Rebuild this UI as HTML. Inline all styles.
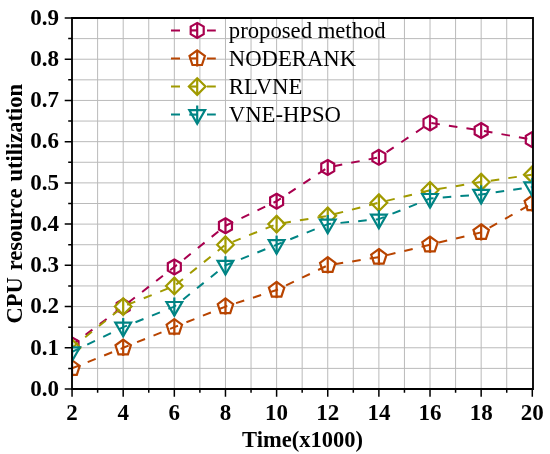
<!DOCTYPE html>
<html><head><meta charset="utf-8"><style>html,body{margin:0;padding:0;background:#fff;}svg{display:block;}</style></head>
<body>
<svg width="550" height="454" viewBox="0 0 550 454">
<rect width="550" height="454" fill="#fff"/>
<path d="M97.62 18.00 V389.00 M148.76 18.00 V389.00 M199.90 18.00 V389.00 M251.04 18.00 V389.00 M302.17 18.00 V389.00 M353.31 18.00 V389.00 M404.45 18.00 V389.00 M455.59 18.00 V389.00 M506.73 18.00 V389.00 M72.00 368.39 H533.00 M72.00 327.17 H533.00 M72.00 285.94 H533.00 M72.00 244.72 H533.00 M72.00 203.50 H533.00 M72.00 162.28 H533.00 M72.00 121.06 H533.00 M72.00 79.83 H533.00 M72.00 38.61 H533.00" stroke="#BABABA" stroke-width="1" fill="none"/>
<path d="M123.19 18.00 V389.00 M174.33 18.00 V389.00 M225.47 18.00 V389.00 M276.61 18.00 V389.00 M327.74 18.00 V389.00 M378.88 18.00 V389.00 M430.02 18.00 V389.00 M481.16 18.00 V389.00 M72.00 347.78 H533.00 M72.00 306.56 H533.00 M72.00 265.33 H533.00 M72.00 224.11 H533.00 M72.00 182.89 H533.00 M72.00 141.67 H533.00 M72.00 100.44 H533.00 M72.00 59.22 H533.00" stroke="#BABABA" stroke-width="1" fill="none"/>
<defs><clipPath id="c"><rect x="72.00" y="18.00" width="461.00" height="371.00"/></clipPath></defs>
<g clip-path="url(#c)">
<path d="M72.05 337.39 L78.55 341.14 L78.55 348.64 L72.05 352.39 L65.55 348.64 L65.55 341.14 Z" fill="#fff" stroke="#A8004E" stroke-width="2.2" stroke-linejoin="miter"/><path d="M72.05 337.39 V352.39" stroke="#A8004E" stroke-width="2.2"/>
<path d="M123.19 299.06 L129.68 302.81 L129.68 310.31 L123.19 314.06 L116.69 310.31 L116.69 302.81 Z" fill="#fff" stroke="#A8004E" stroke-width="2.2" stroke-linejoin="miter"/><path d="M123.19 299.06 V314.06" stroke="#A8004E" stroke-width="2.2"/>
<path d="M174.33 259.48 L180.82 263.23 L180.82 270.73 L174.33 274.48 L167.83 270.73 L167.83 263.23 Z" fill="#fff" stroke="#A8004E" stroke-width="2.2" stroke-linejoin="miter"/><path d="M174.33 259.48 V274.48" stroke="#A8004E" stroke-width="2.2"/>
<path d="M225.47 218.26 L231.96 222.01 L231.96 229.51 L225.47 233.26 L218.97 229.51 L218.97 222.01 Z" fill="#fff" stroke="#A8004E" stroke-width="2.2" stroke-linejoin="miter"/><path d="M225.47 218.26 V233.26" stroke="#A8004E" stroke-width="2.2"/>
<path d="M276.61 193.73 L283.10 197.48 L283.10 204.98 L276.61 208.73 L270.11 204.98 L270.11 197.48 Z" fill="#fff" stroke="#A8004E" stroke-width="2.2" stroke-linejoin="miter"/><path d="M276.61 193.73 V208.73" stroke="#A8004E" stroke-width="2.2"/>
<path d="M327.74 159.93 L334.24 163.68 L334.24 171.18 L327.74 174.93 L321.25 171.18 L321.25 163.68 Z" fill="#fff" stroke="#A8004E" stroke-width="2.2" stroke-linejoin="miter"/><path d="M327.74 159.93 V174.93" stroke="#A8004E" stroke-width="2.2"/>
<path d="M378.88 149.83 L385.38 153.58 L385.38 161.08 L378.88 164.83 L372.39 161.08 L372.39 153.58 Z" fill="#fff" stroke="#A8004E" stroke-width="2.2" stroke-linejoin="miter"/><path d="M378.88 149.83 V164.83" stroke="#A8004E" stroke-width="2.2"/>
<path d="M430.02 115.41 L436.52 119.16 L436.52 126.66 L430.02 130.41 L423.53 126.66 L423.53 119.16 Z" fill="#fff" stroke="#A8004E" stroke-width="2.2" stroke-linejoin="miter"/><path d="M430.02 115.41 V130.41" stroke="#A8004E" stroke-width="2.2"/>
<path d="M481.16 123.04 L487.66 126.79 L487.66 134.29 L481.16 138.04 L474.67 134.29 L474.67 126.79 Z" fill="#fff" stroke="#A8004E" stroke-width="2.2" stroke-linejoin="miter"/><path d="M481.16 123.04 V138.04" stroke="#A8004E" stroke-width="2.2"/>
<path d="M532.30 132.11 L538.80 135.86 L538.80 143.36 L532.30 147.11 L525.80 143.36 L525.80 135.86 Z" fill="#fff" stroke="#A8004E" stroke-width="2.2" stroke-linejoin="miter"/><path d="M532.30 132.11 V147.11" stroke="#A8004E" stroke-width="2.2"/>
<g stroke="#A8004E" stroke-width="2" stroke-dasharray="8.60 9.14"><line x1="72.05" y1="344.89" x2="123.19" y2="306.56" stroke-dashoffset="0.87"/><line x1="123.19" y1="306.56" x2="174.33" y2="266.98" stroke-dashoffset="11.56"/><line x1="174.33" y1="266.98" x2="225.47" y2="225.76" stroke-dashoffset="5.27"/><line x1="225.47" y1="225.76" x2="276.61" y2="201.23" stroke-dashoffset="17.73"/><line x1="276.61" y1="201.23" x2="327.74" y2="167.43" stroke-dashoffset="3.49"/><line x1="327.74" y1="167.43" x2="378.88" y2="157.33" stroke-dashoffset="11.57"/><line x1="378.88" y1="157.33" x2="430.02" y2="122.91" stroke-dashoffset="8.47"/><line x1="430.02" y1="122.91" x2="481.16" y2="130.54" stroke-dashoffset="16.40"/><line x1="481.16" y1="130.54" x2="532.30" y2="139.61" stroke-dashoffset="14.88"/></g>
<path d="M72.05 360.29 L79.75 365.89 L76.81 374.94 L67.29 374.94 L64.35 365.89 Z" fill="#fff" stroke="#B84400" stroke-width="2.2" stroke-linejoin="miter"/><path d="M72.05 360.29 V376.49" stroke="#B84400" stroke-width="2.2"/>
<path d="M123.19 339.68 L130.89 345.27 L127.95 354.33 L118.43 354.33 L115.49 345.27 Z" fill="#fff" stroke="#B84400" stroke-width="2.2" stroke-linejoin="miter"/><path d="M123.19 339.68 V355.88" stroke="#B84400" stroke-width="2.2"/>
<path d="M174.33 319.07 L182.03 324.66 L179.09 333.72 L169.57 333.72 L166.62 324.66 Z" fill="#fff" stroke="#B84400" stroke-width="2.2" stroke-linejoin="miter"/><path d="M174.33 319.07 V335.27" stroke="#B84400" stroke-width="2.2"/>
<path d="M225.47 298.46 L233.17 304.05 L230.23 313.11 L220.71 313.11 L217.76 304.05 Z" fill="#fff" stroke="#B84400" stroke-width="2.2" stroke-linejoin="miter"/><path d="M225.47 298.46 V314.66" stroke="#B84400" stroke-width="2.2"/>
<path d="M276.61 281.97 L284.31 287.56 L281.37 296.62 L271.84 296.62 L268.90 287.56 Z" fill="#fff" stroke="#B84400" stroke-width="2.2" stroke-linejoin="miter"/><path d="M276.61 281.97 V298.17" stroke="#B84400" stroke-width="2.2"/>
<path d="M327.74 257.23 L335.45 262.83 L332.51 271.89 L322.98 271.89 L320.04 262.83 Z" fill="#fff" stroke="#B84400" stroke-width="2.2" stroke-linejoin="miter"/><path d="M327.74 257.23 V273.43" stroke="#B84400" stroke-width="2.2"/>
<path d="M378.88 248.99 L386.59 254.59 L383.64 263.64 L374.12 263.64 L371.18 254.59 Z" fill="#fff" stroke="#B84400" stroke-width="2.2" stroke-linejoin="miter"/><path d="M378.88 248.99 V265.19" stroke="#B84400" stroke-width="2.2"/>
<path d="M430.02 236.62 L437.73 242.22 L434.78 251.28 L425.26 251.28 L422.32 242.22 Z" fill="#fff" stroke="#B84400" stroke-width="2.2" stroke-linejoin="miter"/><path d="M430.02 236.62 V252.82" stroke="#B84400" stroke-width="2.2"/>
<path d="M481.16 224.26 L488.86 229.85 L485.92 238.91 L476.40 238.91 L473.46 229.85 Z" fill="#fff" stroke="#B84400" stroke-width="2.2" stroke-linejoin="miter"/><path d="M481.16 224.26 V240.46" stroke="#B84400" stroke-width="2.2"/>
<path d="M532.30 195.40 L540.00 201.00 L537.06 210.05 L527.54 210.05 L524.60 201.00 Z" fill="#fff" stroke="#B84400" stroke-width="2.2" stroke-linejoin="miter"/><path d="M532.30 195.40 V211.60" stroke="#B84400" stroke-width="2.2"/>
<g stroke="#B84400" stroke-width="2" stroke-dasharray="8.60 9.14"><line x1="72.05" y1="368.39" x2="123.19" y2="347.78" stroke-dashoffset="0.87"/><line x1="123.19" y1="347.78" x2="174.33" y2="327.17" stroke-dashoffset="2.79"/><line x1="174.33" y1="327.17" x2="225.47" y2="306.56" stroke-dashoffset="4.70"/><line x1="225.47" y1="306.56" x2="276.61" y2="290.07" stroke-dashoffset="6.62"/><line x1="276.61" y1="290.07" x2="327.74" y2="265.33" stroke-dashoffset="7.13"/><line x1="327.74" y1="265.33" x2="378.88" y2="257.09" stroke-dashoffset="10.72"/><line x1="378.88" y1="257.09" x2="430.02" y2="244.72" stroke-dashoffset="9.30"/><line x1="430.02" y1="244.72" x2="481.16" y2="232.36" stroke-dashoffset="8.69"/><line x1="481.16" y1="232.36" x2="532.30" y2="203.50" stroke-dashoffset="8.08"/></g>
<path d="M72.05 339.48 L80.35 347.78 L72.05 356.08 L63.75 347.78 Z" fill="#fff" stroke="#A09A00" stroke-width="2.2" stroke-linejoin="miter"/><path d="M72.05 339.48 V356.08" stroke="#A09A00" stroke-width="2.2"/>
<path d="M123.19 298.26 L131.49 306.56 L123.19 314.86 L114.89 306.56 Z" fill="#fff" stroke="#A09A00" stroke-width="2.2" stroke-linejoin="miter"/><path d="M123.19 298.26 V314.86" stroke="#A09A00" stroke-width="2.2"/>
<path d="M174.33 277.64 L182.63 285.94 L174.33 294.24 L166.03 285.94 Z" fill="#fff" stroke="#A09A00" stroke-width="2.2" stroke-linejoin="miter"/><path d="M174.33 277.64 V294.24" stroke="#A09A00" stroke-width="2.2"/>
<path d="M225.47 236.42 L233.77 244.72 L225.47 253.02 L217.17 244.72 Z" fill="#fff" stroke="#A09A00" stroke-width="2.2" stroke-linejoin="miter"/><path d="M225.47 236.42 V253.02" stroke="#A09A00" stroke-width="2.2"/>
<path d="M276.61 215.81 L284.91 224.11 L276.61 232.41 L268.31 224.11 Z" fill="#fff" stroke="#A09A00" stroke-width="2.2" stroke-linejoin="miter"/><path d="M276.61 215.81 V232.41" stroke="#A09A00" stroke-width="2.2"/>
<path d="M327.74 207.57 L336.04 215.87 L327.74 224.17 L319.44 215.87 Z" fill="#fff" stroke="#A09A00" stroke-width="2.2" stroke-linejoin="miter"/><path d="M327.74 207.57 V224.17" stroke="#A09A00" stroke-width="2.2"/>
<path d="M378.88 194.38 L387.18 202.68 L378.88 210.98 L370.58 202.68 Z" fill="#fff" stroke="#A09A00" stroke-width="2.2" stroke-linejoin="miter"/><path d="M378.88 194.38 V210.98" stroke="#A09A00" stroke-width="2.2"/>
<path d="M430.02 182.01 L438.32 190.31 L430.02 198.61 L421.72 190.31 Z" fill="#fff" stroke="#A09A00" stroke-width="2.2" stroke-linejoin="miter"/><path d="M430.02 182.01 V198.61" stroke="#A09A00" stroke-width="2.2"/>
<path d="M481.16 173.76 L489.46 182.06 L481.16 190.36 L472.86 182.06 Z" fill="#fff" stroke="#A09A00" stroke-width="2.2" stroke-linejoin="miter"/><path d="M481.16 173.76 V190.36" stroke="#A09A00" stroke-width="2.2"/>
<path d="M532.30 166.34 L540.60 174.64 L532.30 182.94 L524.00 174.64 Z" fill="#fff" stroke="#A09A00" stroke-width="2.2" stroke-linejoin="miter"/><path d="M532.30 166.34 V182.94" stroke="#A09A00" stroke-width="2.2"/>
<g stroke="#A09A00" stroke-width="2" stroke-dasharray="8.60 9.14"><line x1="72.05" y1="347.78" x2="123.19" y2="306.56" stroke-dashoffset="0.87"/><line x1="123.19" y1="306.56" x2="174.33" y2="285.94" stroke-dashoffset="13.33"/><line x1="174.33" y1="285.94" x2="225.47" y2="244.72" stroke-dashoffset="15.25"/><line x1="225.47" y1="244.72" x2="276.61" y2="224.11" stroke-dashoffset="9.98"/><line x1="276.61" y1="224.11" x2="327.74" y2="215.87" stroke-dashoffset="11.89"/><line x1="327.74" y1="215.87" x2="378.88" y2="202.68" stroke-dashoffset="10.47"/><line x1="378.88" y1="202.68" x2="430.02" y2="190.31" stroke-dashoffset="10.06"/><line x1="430.02" y1="190.31" x2="481.16" y2="182.06" stroke-dashoffset="9.46"/><line x1="481.16" y1="182.06" x2="532.30" y2="174.64" stroke-dashoffset="8.04"/></g>
<path d="M72.05 361.00 L79.93 347.35 L64.17 347.35 Z" fill="#fff" stroke="#008484" stroke-width="2.2" stroke-linejoin="miter"/><path d="M72.05 342.80 V361.00" stroke="#008484" stroke-width="2.2"/>
<path d="M123.19 336.27 L131.07 322.62 L115.31 322.62 Z" fill="#fff" stroke="#008484" stroke-width="2.2" stroke-linejoin="miter"/><path d="M123.19 318.07 V336.27" stroke="#008484" stroke-width="2.2"/>
<path d="M174.33 315.66 L182.21 302.01 L166.45 302.01 Z" fill="#fff" stroke="#008484" stroke-width="2.2" stroke-linejoin="miter"/><path d="M174.33 297.46 V315.66" stroke="#008484" stroke-width="2.2"/>
<path d="M225.47 274.43 L233.35 260.78 L217.59 260.78 Z" fill="#fff" stroke="#008484" stroke-width="2.2" stroke-linejoin="miter"/><path d="M225.47 256.23 V274.43" stroke="#008484" stroke-width="2.2"/>
<path d="M276.61 253.82 L284.49 240.17 L268.72 240.17 Z" fill="#fff" stroke="#008484" stroke-width="2.2" stroke-linejoin="miter"/><path d="M276.61 235.62 V253.82" stroke="#008484" stroke-width="2.2"/>
<path d="M327.74 233.21 L335.63 219.56 L319.86 219.56 Z" fill="#fff" stroke="#008484" stroke-width="2.2" stroke-linejoin="miter"/><path d="M327.74 215.01 V233.21" stroke="#008484" stroke-width="2.2"/>
<path d="M378.88 228.26 L386.76 214.61 L371.00 214.61 Z" fill="#fff" stroke="#008484" stroke-width="2.2" stroke-linejoin="miter"/><path d="M378.88 210.06 V228.26" stroke="#008484" stroke-width="2.2"/>
<path d="M430.02 207.65 L437.90 194.00 L422.14 194.00 Z" fill="#fff" stroke="#008484" stroke-width="2.2" stroke-linejoin="miter"/><path d="M430.02 189.45 V207.65" stroke="#008484" stroke-width="2.2"/>
<path d="M481.16 203.53 L489.04 189.88 L473.28 189.88 Z" fill="#fff" stroke="#008484" stroke-width="2.2" stroke-linejoin="miter"/><path d="M481.16 185.33 V203.53" stroke="#008484" stroke-width="2.2"/>
<path d="M532.30 196.11 L540.18 182.46 L524.42 182.46 Z" fill="#fff" stroke="#008484" stroke-width="2.2" stroke-linejoin="miter"/><path d="M532.30 177.91 V196.11" stroke="#008484" stroke-width="2.2"/>
<g stroke="#008484" stroke-width="2" stroke-dasharray="8.60 9.14"><line x1="72.05" y1="351.90" x2="123.19" y2="327.17" stroke-dashoffset="0.87"/><line x1="123.19" y1="327.17" x2="174.33" y2="306.56" stroke-dashoffset="4.46"/><line x1="174.33" y1="306.56" x2="225.47" y2="265.33" stroke-dashoffset="6.37"/><line x1="225.47" y1="265.33" x2="276.61" y2="244.72" stroke-dashoffset="1.10"/><line x1="276.61" y1="244.72" x2="327.74" y2="224.11" stroke-dashoffset="3.01"/><line x1="327.74" y1="224.11" x2="378.88" y2="219.16" stroke-dashoffset="4.93"/><line x1="378.88" y1="219.16" x2="430.02" y2="198.55" stroke-dashoffset="3.09"/><line x1="430.02" y1="198.55" x2="481.16" y2="194.43" stroke-dashoffset="5.00"/><line x1="481.16" y1="194.43" x2="532.30" y2="187.01" stroke-dashoffset="3.09"/></g>
</g>
<path d="M72.00 18.00 H533.00 V389.00 H72.00 Z" fill="none" stroke="#000" stroke-width="1.85"/>
<path d="M72.05 389.00 V396.80 M97.62 389.00 V392.80 M123.19 389.00 V396.80 M148.76 389.00 V392.80 M174.33 389.00 V396.80 M199.90 389.00 V392.80 M225.47 389.00 V396.80 M251.04 389.00 V392.80 M276.61 389.00 V396.80 M302.17 389.00 V392.80 M327.74 389.00 V396.80 M353.31 389.00 V392.80 M378.88 389.00 V396.80 M404.45 389.00 V392.80 M430.02 389.00 V396.80 M455.59 389.00 V392.80 M481.16 389.00 V396.80 M506.73 389.00 V392.80 M532.30 389.00 V396.80 M72.00 389.00 H64.70 M72.00 368.39 H68.20 M72.00 347.78 H64.70 M72.00 327.17 H68.20 M72.00 306.56 H64.70 M72.00 285.94 H68.20 M72.00 265.33 H64.70 M72.00 244.72 H68.20 M72.00 224.11 H64.70 M72.00 203.50 H68.20 M72.00 182.89 H64.70 M72.00 162.28 H68.20 M72.00 141.67 H64.70 M72.00 121.06 H68.20 M72.00 100.44 H64.70 M72.00 79.83 H68.20 M72.00 59.22 H64.70 M72.00 38.61 H68.20 M72.00 18.00 H64.70" stroke="#000" stroke-width="1.5" fill="none"/>
<text x="72.05" y="419.6" text-anchor="middle" font-family="&apos;Liberation Serif&apos;, serif" font-weight="bold" font-size="23">2</text>
<text x="123.19" y="419.6" text-anchor="middle" font-family="&apos;Liberation Serif&apos;, serif" font-weight="bold" font-size="23">4</text>
<text x="174.33" y="419.6" text-anchor="middle" font-family="&apos;Liberation Serif&apos;, serif" font-weight="bold" font-size="23">6</text>
<text x="225.47" y="419.6" text-anchor="middle" font-family="&apos;Liberation Serif&apos;, serif" font-weight="bold" font-size="23">8</text>
<text x="276.61" y="419.6" text-anchor="middle" font-family="&apos;Liberation Serif&apos;, serif" font-weight="bold" font-size="23">10</text>
<text x="327.74" y="419.6" text-anchor="middle" font-family="&apos;Liberation Serif&apos;, serif" font-weight="bold" font-size="23">12</text>
<text x="378.88" y="419.6" text-anchor="middle" font-family="&apos;Liberation Serif&apos;, serif" font-weight="bold" font-size="23">14</text>
<text x="430.02" y="419.6" text-anchor="middle" font-family="&apos;Liberation Serif&apos;, serif" font-weight="bold" font-size="23">16</text>
<text x="481.16" y="419.6" text-anchor="middle" font-family="&apos;Liberation Serif&apos;, serif" font-weight="bold" font-size="23">18</text>
<text x="532.30" y="419.6" text-anchor="middle" font-family="&apos;Liberation Serif&apos;, serif" font-weight="bold" font-size="23">20</text>
<text x="59" y="395.80" text-anchor="end" font-family="&apos;Liberation Serif&apos;, serif" font-weight="bold" font-size="23">0.0</text>
<text x="59" y="354.58" text-anchor="end" font-family="&apos;Liberation Serif&apos;, serif" font-weight="bold" font-size="23">0.1</text>
<text x="59" y="313.36" text-anchor="end" font-family="&apos;Liberation Serif&apos;, serif" font-weight="bold" font-size="23">0.2</text>
<text x="59" y="272.13" text-anchor="end" font-family="&apos;Liberation Serif&apos;, serif" font-weight="bold" font-size="23">0.3</text>
<text x="59" y="230.91" text-anchor="end" font-family="&apos;Liberation Serif&apos;, serif" font-weight="bold" font-size="23">0.4</text>
<text x="59" y="189.69" text-anchor="end" font-family="&apos;Liberation Serif&apos;, serif" font-weight="bold" font-size="23">0.5</text>
<text x="59" y="148.47" text-anchor="end" font-family="&apos;Liberation Serif&apos;, serif" font-weight="bold" font-size="23">0.6</text>
<text x="59" y="107.24" text-anchor="end" font-family="&apos;Liberation Serif&apos;, serif" font-weight="bold" font-size="23">0.7</text>
<text x="59" y="66.02" text-anchor="end" font-family="&apos;Liberation Serif&apos;, serif" font-weight="bold" font-size="23">0.8</text>
<text x="59" y="24.80" text-anchor="end" font-family="&apos;Liberation Serif&apos;, serif" font-weight="bold" font-size="23">0.9</text>
<text x="302.5" y="446.5" text-anchor="middle" font-family="&apos;Liberation Serif&apos;, serif" font-weight="bold" font-size="22.5">Time(x1000)</text>
<text transform="translate(21.8 203.8) rotate(-90)" text-anchor="middle" word-spacing="1.4" font-family="&apos;Liberation Serif&apos;, serif" font-weight="bold" font-size="22.5">CPU resource utilization</text>
<path d="M171 30.40 H180 M207 30.40 H215.8" stroke="#A8004E" stroke-width="2"/>
<path d="M197.20 22.90 L203.70 26.65 L203.70 34.15 L197.20 37.90 L190.70 34.15 L190.70 26.65 Z" fill="#fff" stroke="#A8004E" stroke-width="2.2" stroke-linejoin="miter"/><path d="M197.20 22.90 V37.90" stroke="#A8004E" stroke-width="2.2"/><path d="M190.70 30.40 H197.20" stroke="#A8004E" stroke-width="2.2"/>
<text x="228.8" y="37.90" font-family="&apos;Liberation Serif&apos;, serif" font-size="22.7">proposed method</text>
<path d="M171 58.47 H180 M207 58.47 H215.8" stroke="#B84400" stroke-width="2"/>
<path d="M197.20 50.37 L204.90 55.97 L201.96 65.02 L192.44 65.02 L189.50 55.97 Z" fill="#fff" stroke="#B84400" stroke-width="2.2" stroke-linejoin="miter"/><path d="M197.20 50.37 V66.57" stroke="#B84400" stroke-width="2.2"/><path d="M189.50 58.47 H197.20" stroke="#B84400" stroke-width="2.2"/>
<text x="228.8" y="65.97" font-family="&apos;Liberation Serif&apos;, serif" font-size="22.7">NODERANK</text>
<path d="M171 86.54 H180 M207 86.54 H215.8" stroke="#A09A00" stroke-width="2"/>
<path d="M197.20 78.24 L205.50 86.54 L197.20 94.84 L188.90 86.54 Z" fill="#fff" stroke="#A09A00" stroke-width="2.2" stroke-linejoin="miter"/><path d="M197.20 78.24 V94.84" stroke="#A09A00" stroke-width="2.2"/><path d="M188.90 86.54 H197.20" stroke="#A09A00" stroke-width="2.2"/>
<text x="228.8" y="94.04" font-family="&apos;Liberation Serif&apos;, serif" font-size="22.7">RLVNE</text>
<path d="M171 114.61 H180 M207 114.61 H215.8" stroke="#008484" stroke-width="2"/>
<path d="M197.20 123.71 L205.08 110.06 L189.32 110.06 Z" fill="#fff" stroke="#008484" stroke-width="2.2" stroke-linejoin="miter"/><path d="M197.20 105.51 V123.71" stroke="#008484" stroke-width="2.2"/><path d="M189.32 114.61 H197.20" stroke="#008484" stroke-width="2.2"/>
<text x="228.8" y="122.11" font-family="&apos;Liberation Serif&apos;, serif" font-size="22.7">VNE-HPSO</text>
</svg>
</body></html>
